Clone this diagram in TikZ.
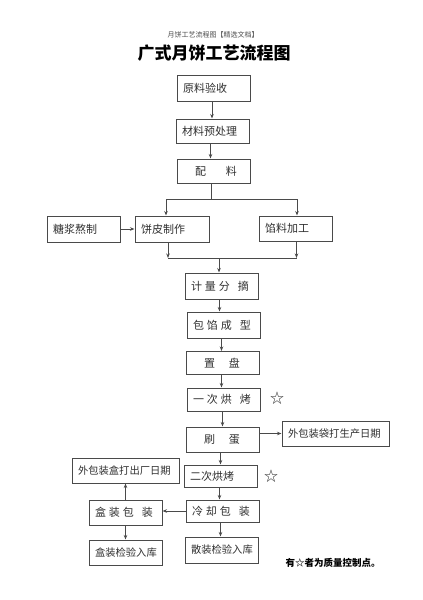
\documentclass[tikz,border=0pt]{standalone}
\usepackage{fontspec}
\setmainfont{Noto Sans CJK SC}
\usetikzlibrary{arrows.meta,calc}
\definecolor{ln}{HTML}{4A4A4A}
\definecolor{tx}{HTML}{303030}
\tikzset{
  box/.style={draw=ln, line width=1pt, text=tx, inner xsep=6pt, inner ysep=0pt,
    font=\fontsize{11pt}{12pt}\selectfont, align=left, anchor=center},
  arr/.style={draw=ln, line width=0.9pt, -{Stealth[length=4.5pt,width=3.5pt]}},
  ln/.style={draw=ln, line width=0.9pt},
  lbl/.style={text=tx, inner sep=0pt},
  small/.style={font=\fontsize{10.3pt}{12pt}\selectfont}
}
\newcommand{\bx}[7][]{\node[box, text width=#5-12pt, minimum height=#6, #1] (#2) at (#3,#4) {#7};}
\begin{document}
\begin{tikzpicture}[x=1pt,y=-1pt]
\fill[white] (0,0) rectangle (423,600);
\useasboundingbox (0,0) rectangle (423,600);
\node[lbl, font=\fontsize{7pt}{8pt}\selectfont, text=black!70] (hd) at (213,35) {月饼工艺流程图【精选文档】};
\node[lbl, font=\fontsize{17pt}{19pt}\selectfont\bfseries, text=black] (tt) at (214,53) {广式月饼工艺流程图};
\bx{b1}{213.5}{88}{73pt}{26pt}{原料验收}
\bx{b2}{212.5}{131}{73pt}{24pt}{材料预处理}
\bx{b3}{213.5}{171}{73pt}{24pt}{\hspace*{12pt}配\hspace{20pt}料}
\bx{tj}{83.5}{229}{73pt}{26pt}{糖浆熬制}
\bx{pj}{172}{229}{74pt}{26pt}{饼皮制作}
\bx{fl}{295.5}{228.5}{73pt}{25pt}{馅料加工}
\bx{jl}{221.5}{286}{73pt}{26pt}{计\hspace{3pt}量\hspace{3pt}分\hspace{8pt}摘}
\bx{bxc}{223.5}{325}{73pt}{26pt}{包\hspace{3pt}馅\hspace{3pt}成\hspace{8pt}型}
\bx{zp}{222.5}{363}{73pt}{23pt}{\hspace*{12pt}置\hspace{14pt}盘}
\bx{yc}{223.5}{399.5}{73pt}{23pt}{一\hspace{3pt}次\hspace{3pt}烘\hspace{8pt}烤}
\bx{sd}{222.5}{439.5}{73pt}{25pt}{\hspace*{12pt}刷\hspace{14pt}蛋}
\bx[small]{wb}{335.5}{433.5}{107pt}{25pt}{外包装袋打生产日期}
\bx{ec}{220.5}{476}{73pt}{22pt}{二次烘烤}
\bx[small]{wh}{125.5}{470.5}{107pt}{25pt}{外包装盒打出厂日期}
\bx{lq}{222.5}{511}{73pt}{22pt}{冷\hspace{3pt}却\hspace{3pt}包\hspace{8pt}装}
\bx{hz}{125.5}{512.5}{73pt}{25pt}{盒\hspace{3pt}装\hspace{3pt}包\hspace{8pt}装}
\bx[small]{hj}{125.5}{552.5}{73pt}{25pt}{盒装检验入库}
\bx[small]{sz}{221.5}{550}{73pt}{26pt}{散装检验入库}
\node[lbl, font=\fontsize{14pt}{15pt}\selectfont] (s1) at (277,398) {☆};
\node[lbl, font=\fontsize{14pt}{15pt}\selectfont] (s2) at (271,476) {☆};
\node[lbl, font=\fontsize{9.5pt}{11pt}\selectfont\bfseries, text=black] (nt) at (333,563) {有☆者为质量控制点。};
% connectors
\draw[arr] ([xshift=-1.5pt]b1.south) -- ([xshift=-1.5pt]b1.south |- b2.north);
\draw[arr] ([xshift=-2pt]b2.south) -- ([xshift=-2pt]b2.south |- b3.north);
\coordinate (sp) at (211,199);
\draw[ln] (b3.south -| sp) -- (sp);
\draw[arr] (sp) -| ([xshift=-6pt]pj.north);
\draw[arr] (sp) -| ([xshift=1.5pt]fl.north);
\draw[arr] (tj.east) -- (pj.west);
\coordinate (mg) at (219,258);
\draw[arr] ([xshift=-4pt]pj.south) -- ([xshift=-4pt]pj.south |- mg);
\draw[arr] ([xshift=1pt]fl.south) -- ([xshift=1pt]fl.south |- mg);
\draw[ln] ([xshift=-4pt]pj.south |- mg) -- ([xshift=1pt]fl.south |- mg);
\draw[arr] (mg) -- (mg |- jl.north);
\draw[arr] ([xshift=-2pt]jl.south) -- ([xshift=-2pt]jl.south |- bxc.north);
\draw[arr] ([xshift=-2pt]bxc.south) -- ([xshift=-2pt]bxc.south |- zp.north);
\draw[arr] ([xshift=-1pt]zp.south) -- ([xshift=-1pt]zp.south |- yc.north);
\draw[arr] ([xshift=-1pt]yc.south) -- ([xshift=-1pt]yc.south |- sd.north);
\draw[arr] ([xshift=-2pt]sd.south) -- ([xshift=-2pt]sd.south |- ec.north);
\draw[arr] ([xshift=-1pt]ec.south) -- ([xshift=-1pt]ec.south |- lq.north);
\draw[arr] (sd.east |- wb.west) -- (wb.west);
\draw[arr] (lq.west) -- (lq.west -| hz.east);
\draw[arr] (hz.north) -- (hz.north |- wh.south);
\draw[arr] (hz.south) -- (hz.south |- hj.north);
\draw[arr] ([xshift=-2pt]lq.south) -- ([xshift=-2pt]lq.south |- sz.north);
\end{tikzpicture}
\end{document}
